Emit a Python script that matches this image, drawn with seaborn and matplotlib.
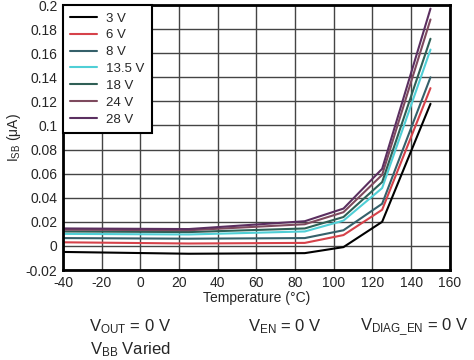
import pandas as pd
import matplotlib
matplotlib.use("Agg")
import matplotlib.pyplot as plt
import seaborn as sns

# temperature points (deg C)
temps = [-40, 25, 85, 105, 125, 150]

# standby current (uA) per supply voltage
isb_3v = [-0.005, -0.0065, -0.006, -0.001, 0.020, 0.118]
isb_6v = [0.003, 0.002, 0.0025, 0.009, 0.030, 0.131]
isb_8v = [0.0065, 0.006, 0.0065, 0.013, 0.035, 0.140]
isb_13v5 = [0.010, 0.0095, 0.012, 0.021, 0.048, 0.163]
isb_18v = [0.012, 0.0115, 0.0145, 0.024, 0.053, 0.172]
isb_24v = [0.0135, 0.013, 0.018, 0.028, 0.059, 0.188]
isb_28v = [0.0145, 0.014, 0.0205, 0.031, 0.064, 0.197]

labels = ["3 V", "6 V", "8 V", "13.5 V", "18 V", "24 V", "28 V"]
series = [isb_3v, isb_6v, isb_8v, isb_13v5, isb_18v, isb_24v, isb_28v]
colors = ["#000000", "#d6424a", "#35606a", "#4fcfd6", "#2f5f55", "#7e4a5e", "#5b2f60"]

frames = []
for lab, vals in zip(labels, series):
    frames.append(pd.DataFrame({"Temperature": temps, "Isb": vals, "Vbb": lab}))
df = pd.concat(frames, ignore_index=True)

sns.set_style("white")
plt.rcParams["font.family"] = ["Liberation Sans", "DejaVu Sans"]
plt.rcParams["mathtext.fontset"] = "custom"
plt.rcParams["mathtext.rm"] = "Liberation Sans"
plt.rcParams["mathtext.it"] = "Liberation Sans"
plt.rcParams["axes.unicode_minus"] = False

fig = plt.figure(figsize=(4.74, 3.6), dpi=100)
ax = fig.add_axes([0.133, 0.25, 0.816, 0.736])

sns.lineplot(data=df, x="Temperature", y="Isb", hue="Vbb", hue_order=labels,
             palette=colors, linewidth=1.5, ax=ax)

ax.set_xlim(-40, 160)
ax.set_ylim(-0.02, 0.2)
ax.set_xticks(range(-40, 161, 20))
ax.set_yticks([-0.02 + 0.02 * i for i in range(12)])
ax.set_yticklabels(["-0.02", "0", "0.02", "0.04", "0.06", "0.08", "0.1",
                    "0.12", "0.14", "0.16", "0.18", "0.2"])
ax.grid(True, color="#444444", linewidth=1.0)
ax.tick_params(labelsize=10, length=0, pad=4)
for s in ax.spines.values():
    s.set_color("black")
    s.set_linewidth(2)

ax.set_xlabel("Temperature (°C)", fontsize=10, labelpad=1)
ax.set_ylabel(r"I$_{\mathrm{SB}}$ ($\mathrm{\mu}$A)", fontsize=10, labelpad=2)

leg = ax.legend(loc="upper left", fontsize=9.5, handlelength=2.0, handletextpad=0.7,
                borderaxespad=0, labelspacing=0.35, fancybox=False, framealpha=1,
                borderpad=0.55)
leg.get_frame().set_edgecolor("black")
leg.get_frame().set_linewidth(1.5)

fig.text(0.275, 0.092, r"V$_{\mathrm{OUT}}$ = 0 V", ha="center", va="center", fontsize=12)
fig.text(0.275, 0.028, r"V$_{\mathrm{BB}}$ Varied", ha="center", va="center", fontsize=12)
fig.text(0.60, 0.092, r"V$_{\mathrm{EN}}$ = 0 V", ha="center", va="center", fontsize=12)
fig.text(0.875, 0.092, r"V$_{\mathrm{DIAG\_EN}}$ = 0 V", ha="center", va="center", fontsize=12)

fig.savefig("out.png", dpi=100)
